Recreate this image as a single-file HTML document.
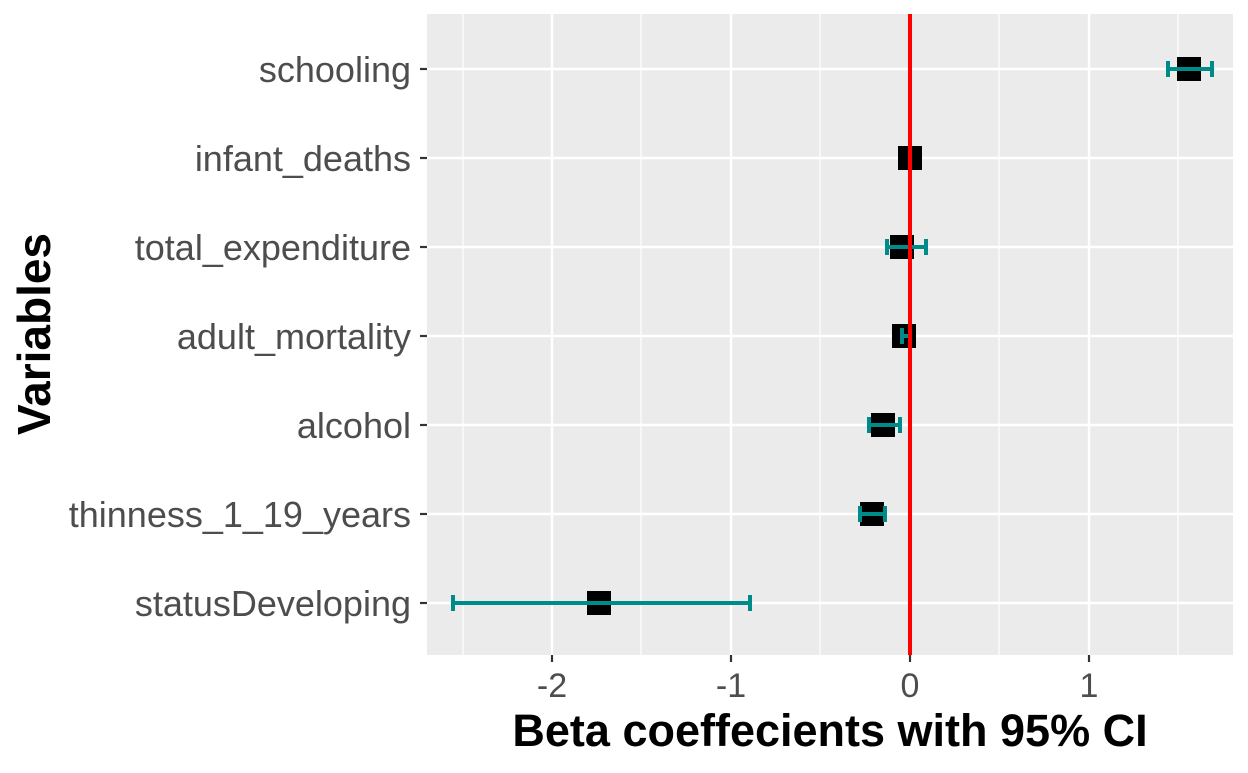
<!DOCTYPE html>
<html><head><meta charset="utf-8"><style>html,body{margin:0;padding:0;background:#fff}</style></head>
<body>
<svg width="1248" height="768" xmlns="http://www.w3.org/2000/svg" font-family="Liberation Sans, Arial, sans-serif">
<rect x="427" y="14" width="806" height="641" fill="#EBEBEB"/>
<g stroke="#fff" stroke-width="1.2">
<line x1="463" y1="14" x2="463" y2="655"/><line x1="641" y1="14" x2="641" y2="655"/>
<line x1="820" y1="14" x2="820" y2="655"/><line x1="999" y1="14" x2="999" y2="655"/>
<line x1="1178" y1="14" x2="1178" y2="655"/>
</g>
<g stroke="#fff" stroke-width="2.4">
<line x1="552" y1="14" x2="552" y2="655"/><line x1="731" y1="14" x2="731" y2="655"/>
<line x1="910" y1="14" x2="910" y2="655"/><line x1="1089" y1="14" x2="1089" y2="655"/>
<line x1="427" y1="69" x2="1233" y2="69"/><line x1="427" y1="158" x2="1233" y2="158"/>
<line x1="427" y1="247" x2="1233" y2="247"/><line x1="427" y1="336" x2="1233" y2="336"/>
<line x1="427" y1="425" x2="1233" y2="425"/><line x1="427" y1="514" x2="1233" y2="514"/>
<line x1="427" y1="603" x2="1233" y2="603"/>
</g>
<g fill="#000">
<rect x="1177" y="57" width="24" height="24"/>
<rect x="898" y="146" width="24" height="24"/>
<rect x="890" y="235" width="24" height="24"/>
<rect x="892" y="324" width="24" height="24"/>
<rect x="871" y="413" width="24" height="24"/>
<rect x="860" y="502" width="24" height="24"/>
<rect x="587" y="591" width="24" height="24"/>
</g>
<g stroke="#008B8B" stroke-width="4" fill="none">
<path d="M1168 69H1212M1168 61V77M1212 61V77"/>
<path d="M887 247H926M887 239V255M926 239V255"/>
<path d="M902 336H910M902 328V344"/>
<path d="M869 425H900M869 417V433M900 417V433"/>
<path d="M860 514H885M860 506V522M885 506V522"/>
<path d="M453 603H750M453 595V611M750 595V611"/>
</g>
<line x1="910" y1="14" x2="910" y2="655" stroke="#FF0000" stroke-width="4"/>
<g stroke="#333" stroke-width="2.2">
<line x1="420" y1="69" x2="427" y2="69"/><line x1="420" y1="158" x2="427" y2="158"/>
<line x1="420" y1="247" x2="427" y2="247"/><line x1="420" y1="336" x2="427" y2="336"/>
<line x1="420" y1="425" x2="427" y2="425"/><line x1="420" y1="514" x2="427" y2="514"/>
<line x1="420" y1="603" x2="427" y2="603"/>
<line x1="552" y1="655" x2="552" y2="662"/><line x1="731" y1="655" x2="731" y2="662"/>
<line x1="910" y1="655" x2="910" y2="662"/><line x1="1089" y1="655" x2="1089" y2="662"/>
</g>
<g fill="#4D4D4D" font-size="36" text-anchor="end">
<text x="411" y="82">schooling</text>
<text x="411" y="171">infant_deaths</text>
<text x="411" y="260">total_expenditure</text>
<text x="411" y="349">adult_mortality</text>
<text x="411" y="438">alcohol</text>
<text x="411" y="527">thinness_1_19_years</text>
<text x="411" y="616">statusDeveloping</text>
</g>
<g fill="#4D4D4D" font-size="34" text-anchor="middle">
<text x="552" y="697">-2</text><text x="731" y="697">-1</text>
<text x="910" y="697">0</text><text x="1089" y="697">1</text>
</g>
<text x="830" y="746" font-size="45" font-weight="bold" text-anchor="middle">Beta coeffecients with 95% CI</text>
<text transform="translate(50,334) rotate(-90)" font-size="46" font-weight="bold" text-anchor="middle">Variables</text>
</svg>
</body></html>
